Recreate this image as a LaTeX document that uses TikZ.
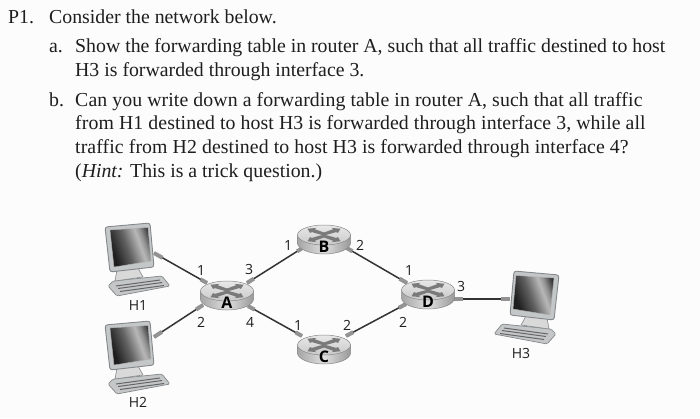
\documentclass[tikz,border=0pt]{standalone}
\usepackage{fontspec}
\setmainfont{Liberation Serif}
\newfontfamily\lblfont{Open Sans}
\usetikzlibrary{calc}
\definecolor{linkc}{HTML}{333333}
\definecolor{txt}{HTML}{1E1E1E}
\definecolor{bodyc}{HTML}{C4C7C8}
\definecolor{edgec}{HTML}{85888A}
\pgfdeclarehorizontalshading{screengrad}{100bp}{color(0bp)=(black!92);color(28bp)=(black!88);color(46bp)=(black!62);color(62bp)=(black!28);color(68bp)=(black!42);color(78bp)=(black!80);color(100bp)=(black!85)}
\tikzset{
  x=1pt,y=-1pt,
  qtext/.style={anchor=base west,inner sep=0pt,text=txt,font=\fontsize{19.8}{22}\selectfont},
  wide/.style={font=\fontsize{19.8}{22}\selectfont\addfontfeature{LetterSpace=0.5}},
  lbl/.style={inner sep=0pt,text=txt,font=\lblfont\fontsize{14}{16}\selectfont},
  rlabel/.style={inner sep=0pt,text=black,font=\lblfont\bfseries\fontsize{16}{18}\selectfont},
  link/.style={draw=linkc,line width=1.5pt},
  plug/.style={draw=gray!85,line width=4pt},
}
% router: #1 name, #2 x, #3 y (centre of the top face), #4 letter
\newcommand{\routerdraw}[4]{%
  \begin{scope}[shift={(#2,#3)}]
    \path[left color=gray!70,right color=gray!80,middle color=gray!25,draw=edgec,line width=.5pt]
      (-26.5,0) -- (-26.5,8) .. controls (-26.5,14) and (-14.5,19) .. (0,19)
      .. controls (14.5,19) and (26.5,14) .. (26.5,8) -- (26.5,0) -- cycle;
    \path[top color=gray!18,bottom color=gray!42,draw=edgec,line width=.5pt]
      (0,0) ellipse[x radius=26.5,y radius=10];
    \foreach \sx/\sy in {1/1,-1/1,1/-1,-1/-1}{
      \fill[black!52] (0,0) -- ++(\sx*3,\sy*.3) -- ++(\sx*9,\sy*2.6) -- ++(\sx*2,\sy*-.8)
        -- ++(\sx*2.5,\sy*4.2) -- ++(\sx*-9,\sy*.8) -- ++(\sx*2,\sy*-1.2) -- ++(\sx*-9.5,\sy*-3.4) -- cycle;
    }
    \node[rlabel] (#1) at (0,12) {#4};
  \end{scope}%
}
% computer: #1 name, #2 x, #3 y (monitor top left), #4 xscale
\newcommand{\computerdraw}[4]{%
  \begin{scope}[shift={(#2,#3)},xscale=#4]
    % keyboard
    \path[fill=bodyc,draw=edgec,line width=.7pt,rounded corners=1.5pt]
      (3,63) -- (8,58) -- (57,53) -- (65,63) -- (12,73) -- cycle;
    \foreach \a/\b/\c/\d in {11/63/55/57, 13/65.5/57/59.5, 15/68.5/59/62.5}
      \draw[black!60,line width=1pt] (\a,\b) -- (\c,\d);
    % stand
    \path[fill=gray!30,draw=edgec,line width=.6pt] (12,47) -- (33,45) -- (38,54) -- (10,58) -- cycle;
    % monitor
    \path[fill=bodyc,draw=edgec,line width=.9pt,rounded corners=2.5pt]
      (0,4) -- (45,0) -- (49,44) -- (5,49) -- cycle;
    \path[shading=screengrad,shading angle=20,draw=gray!60,line width=.4pt]
      (5,7) -- (43,4.5) -- (46,38) -- (9,44) -- cycle;
  \end{scope}%
}
\begin{document}
\begin{tikzpicture}
\useasboundingbox (0,0) rectangle (700,418);
\fill[white!98!gray] (0,0) rectangle (700,418);

\node[qtext] (t0) at (8,23.5) {P1.};
\node[qtext] (t1) at (49,23.5) {Consider the network below.};
\node[qtext] (t2) at (49,52.5) {a.};
\node[qtext] (t3) at (75,52.5) {Show the forwarding table in router A, such that all traffic destined to host};
\node[qtext] (t4) at (75,76) {H3 is forwarded through interface 3.};
\node[qtext] (t5) at (49,106) {b.};
\node[qtext,wide] (t6) at (75,106) {Can you write down a forwarding table in router A, such that all traffic};
\node[qtext,wide] (t7) at (75,129.5) {from H1 destined to host H3 is forwarded through interface 3, while all};
\node[qtext,wide] (t8) at (75,153) {traffic from H2 destined to host H3 is forwarded through interface 4?};
\node[qtext] (t9) at (75,177) {(\textit{Hint:} This is a trick question.)};

\computerdraw{H1}{105}{223}{1}
\computerdraw{H2}{105}{321}{1}
\computerdraw{H3}{559}{271}{-1}

% connector end points
\coordinate (h1p) at (154,253);
\coordinate (h2p) at (154,337);
\coordinate (h3p) at (510,299);
\coordinate (a1) at (207,283);
\coordinate (a2) at (203,305);
\coordinate (a3) at (247,283);
\coordinate (a4) at (248,306);
\coordinate (b1) at (304,247);
\coordinate (b2) at (345,247);
\coordinate (c1) at (302,336);
\coordinate (c2) at (346,336);
\coordinate (d1) at (407,283);
\coordinate (d2) at (406,304);
\coordinate (d3) at (453,299);

\draw[link] (h1p) -- (a1);
\draw[link] (h2p) -- (a2);
\draw[link] (a3) -- (b1);
\draw[link] (a4) -- (c1);
\draw[link] (b2) -- (d1);
\draw[link] (c2) -- (d2);
\draw[link] (d3) -- (h3p);
\foreach \p/\q/\f in {h1p/a1/.16,a1/h1p/.12,h2p/a2/.16,a2/h2p/.14,a3/b1/.12,b1/a3/.12,a4/c1/.12,c1/a4/.12,b2/d1/.12,d1/b2/.12,c2/d2/.12,d2/c2/.12,d3/h3p/.18,h3p/d3/.16}
  \draw[plug] (\p) -- ($(\p)!\f!(\q)$);

\routerdraw{A}{227}{291}{A}
\routerdraw{B}{324}{235}{B}
\routerdraw{C}{324}{345}{C}
\routerdraw{D}{428}{290}{D}

\node[lbl] (lh1) at (138,305) {H1};
\node[lbl] (lh2) at (138,402) {H2};
\node[lbl] (lh3) at (521,353) {H3};
\node[lbl] (pa1) at (201,270) {1};
\node[lbl] (pa3) at (249,269) {3};
\node[lbl] (pa2) at (201,322) {2};
\node[lbl] (pa4) at (250,322) {4};
\node[lbl] (pb1) at (288,245) {1};
\node[lbl] (pb2) at (360,245) {2};
\node[lbl] (pc1) at (298,325) {1};
\node[lbl] (pc2) at (347,325) {2};
\node[lbl] (pd1) at (409,270) {1};
\node[lbl] (pd2) at (403,322) {2};
\node[lbl] (pd3) at (461,286) {3};
\end{tikzpicture}
\end{document}
